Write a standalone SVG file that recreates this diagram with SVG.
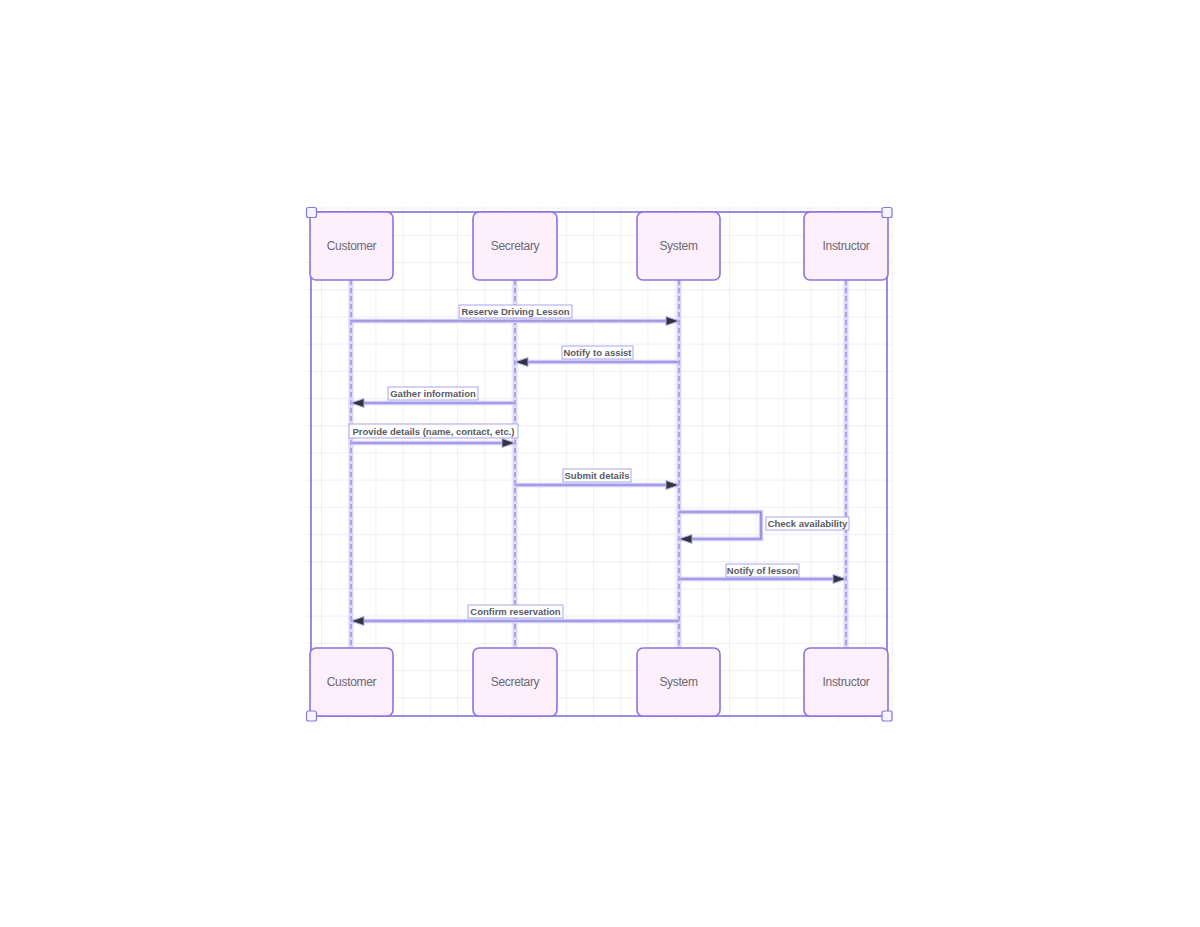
<svg xmlns="http://www.w3.org/2000/svg" width="1200" height="927" viewBox="0 0 1200 927">
<style>
.box{fill:#fdeffb;stroke:#8c72e6;stroke-width:1.6}
.ptxt{font-family:"Liberation Sans",Arial,sans-serif;font-size:12px;fill:#6a6a72;text-anchor:middle;letter-spacing:-0.3px}
.band{fill:none;stroke:#dcd8f8;stroke-width:5}
.life{fill:none;stroke:#8a80e2;stroke-width:1.2;stroke-dasharray:5 3}
.mband{fill:none;stroke:#d0cbf6;stroke-width:4.5}
.mline{fill:none;stroke:#7a6fda;stroke-width:1.2}
.lbox{fill:#ffffff;stroke:#aaa4ea;stroke-width:1}
.ltxt{font-family:"Liberation Sans",Arial,sans-serif;font-size:9.5px;font-weight:bold;fill:#5a5a64;text-anchor:middle}
.frame{fill:none;stroke:#7468d9;stroke-width:1.5}
.handle{fill:#f6f4ff;stroke:#8479e0;stroke-width:1.2}
</style>
<defs>
<pattern id="grid" patternUnits="userSpaceOnUse" x="294.8" y="208.6" width="27.2" height="27.2">
<path d="M27.2 0V27.2M0 27.2H27.2" fill="none" stroke="#e1e1ea" stroke-width="1"/>
</pattern>
<marker id="arr" markerUnits="userSpaceOnUse" markerWidth="16" markerHeight="12" refX="14" refY="6" orient="auto">
<path d="M1 1.5L14 6L1 10.5Z" fill="#34343c" stroke="#b0aaef" stroke-width="1"/>
</marker>
</defs>
<rect width="1200" height="927" fill="#ffffff"/>
<rect x="305" y="206" width="588" height="516" fill="url(#grid)"/>

<g id="frame">
<path class="frame" d="M311 212H887"/>
<path class="frame" d="M311 212V716"/>
<path class="frame" d="M311 716H887" stroke-width="2"/>
<path class="frame" d="M887 212V716" stroke="#5b50c8" stroke-width="2.6"/>
</g>

<g id="lifelines">
<path class="band" d="M351 280V648M515 280V648M679 280V648M846 280V648"/>
<path class="life" d="M351 280V648M515 280V648M679 280V648M846 280V648"/>
</g>

<g id="connectors">
<g id="m1">
<path class="mband" d="M351 321H679"/>
<path class="mline" d="M351 321H679" marker-end="url(#arr)"/>
<rect class="lbox" x="459" y="305" width="113" height="13"/>
<text class="ltxt" x="515.5" y="315">Reserve Driving Lesson</text>
</g>
<g id="m2">
<path class="mband" d="M679 362H515"/>
<path class="mline" d="M679 362H515" marker-end="url(#arr)"/>
<rect class="lbox" x="562" y="346" width="71" height="13"/>
<text class="ltxt" x="597.5" y="356">Notify to assist</text>
</g>
<g id="m3">
<path class="mband" d="M515 403H351"/>
<path class="mline" d="M515 403H351" marker-end="url(#arr)"/>
<rect class="lbox" x="388" y="387" width="90" height="13"/>
<text class="ltxt" x="433" y="397">Gather information</text>
</g>
<g id="m4">
<path class="mband" d="M351 443H515"/>
<path class="mline" d="M351 443H515" marker-end="url(#arr)"/>
<rect class="lbox" x="349" y="424" width="169" height="14"/>
<text class="ltxt" x="433.5" y="434.5">Provide details (name, contact, etc.)</text>
</g>
<g id="m5">
<path class="mband" d="M515 485H679"/>
<path class="mline" d="M515 485H679" marker-end="url(#arr)"/>
<rect class="lbox" x="563" y="469" width="68" height="13"/>
<text class="ltxt" x="597" y="479">Submit details</text>
</g>
<g id="m6">
<path class="mband" d="M679 512H761V539H679"/>
<path class="mline" d="M679 512H761V539H679" marker-end="url(#arr)"/>
<rect class="lbox" x="766" y="517" width="83" height="13"/>
<text class="ltxt" x="807.5" y="527">Check availability</text>
</g>
<g id="m7">
<path class="mband" d="M679 579H846"/>
<path class="mline" d="M679 579H846" marker-end="url(#arr)"/>
<rect class="lbox" x="726" y="564" width="73" height="13"/>
<text class="ltxt" x="762.5" y="574">Notify of lesson</text>
</g>
<g id="m8">
<path class="mband" d="M679 621H351"/>
<path class="mline" d="M679 621H351" marker-end="url(#arr)"/>
<rect class="lbox" x="468" y="605" width="95" height="13"/>
<text class="ltxt" x="515.5" y="615">Confirm reservation</text>
</g>
</g>

<g id="customer-top"><rect class="box" x="310" y="212" width="83" height="68" rx="6"/><text class="ptxt" x="351.5" y="250">Customer</text></g>
<g id="secretary-top"><rect class="box" x="473" y="212" width="84" height="68" rx="6"/><text class="ptxt" x="515" y="250">Secretary</text></g>
<g id="system-top"><rect class="box" x="637" y="212" width="83" height="68" rx="6"/><text class="ptxt" x="678.5" y="250">System</text></g>
<g id="instructor-top"><rect class="box" x="804" y="212" width="84" height="68" rx="6"/><text class="ptxt" x="846" y="250">Instructor</text></g>
<g id="customer-bottom"><rect class="box" x="310" y="648" width="83" height="68" rx="6"/><text class="ptxt" x="351.5" y="686">Customer</text></g>
<g id="secretary-bottom"><rect class="box" x="473" y="648" width="84" height="68" rx="6"/><text class="ptxt" x="515" y="686">Secretary</text></g>
<g id="system-bottom"><rect class="box" x="637" y="648" width="83" height="68" rx="6"/><text class="ptxt" x="678.5" y="686">System</text></g>
<g id="instructor-bottom"><rect class="box" x="804" y="648" width="84" height="68" rx="6"/><text class="ptxt" x="846" y="686">Instructor</text></g>

<g id="handles">
<rect class="handle" x="306.5" y="207.5" width="10" height="10" rx="2"/>
<rect class="handle" x="882" y="207.5" width="10" height="10" rx="2"/>
<rect class="handle" x="306.5" y="711" width="10" height="10" rx="2"/>
<rect class="handle" x="882" y="711" width="10" height="10" rx="2"/>
</g>
</svg>
